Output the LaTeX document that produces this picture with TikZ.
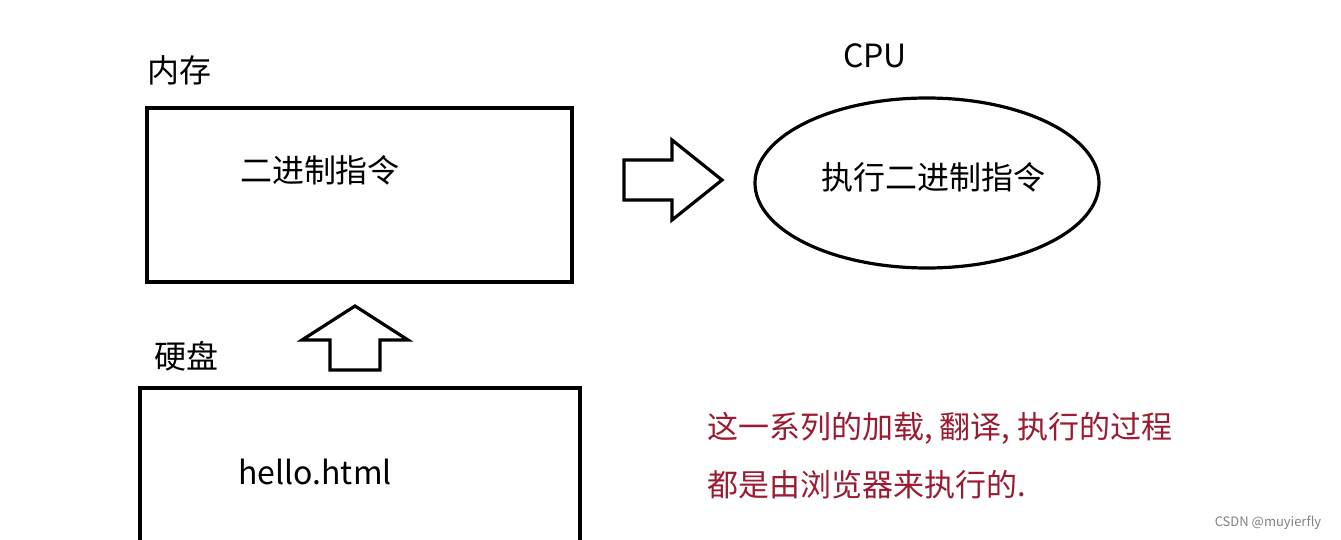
\documentclass[tikz,border=0pt]{standalone}
\usepackage{fontspec}
\setmainfont{Noto Sans CJK SC}
\definecolor{redtxt}{HTML}{9B1B30}
\begin{document}
\begin{tikzpicture}[x=0.5pt,y=-0.5pt,
  box/.style={draw,line width=1.6pt},
  lbl/.style={font=\fontsize{16}{18}\selectfont},
  note/.style={font=\fontsize{15.5}{18}\selectfont,text=redtxt,anchor=west}]
\useasboundingbox (0,0) rectangle (1341,540);
\draw[box] (147,108) rectangle (572,282);
\node[lbl] (mem) at (180,70) {内存};
\node[lbl] (bin) at (320,170) {二进制指令};
\draw[box] (624,160) -- (672,160) -- (672,140) -- (722,180) -- (672,220) -- (672,200) -- (624,200) -- cycle;
\draw[box] (927,183) ellipse (172 and 85);
\node[lbl] (cpu) at (875,56) {CPU};
\node[lbl] (exec) at (933,177) {执行二进制指令};
\draw[box] (330,370) -- (330,340) -- (302,340) -- (355,306) -- (408,340) -- (380,340) -- (380,370) -- cycle;
\node[lbl] (disk) at (187,356) {硬盘};
\draw[box] (140,545) -- (140,388) -- (580,388) -- (580,545);
\node[lbl] (html) at (315,472) {hello.html};
\node[note] (n1) at (700,428) {这一系列的加载, 翻译, 执行的过程};
\node[note] (n2) at (700,485) {都是由浏览器来执行的.};
\node[font=\fontsize{6.5}{8}\selectfont,text=gray] (wm) at (1268,523) {CSDN @muyierfly};
\end{tikzpicture}
\end{document}
